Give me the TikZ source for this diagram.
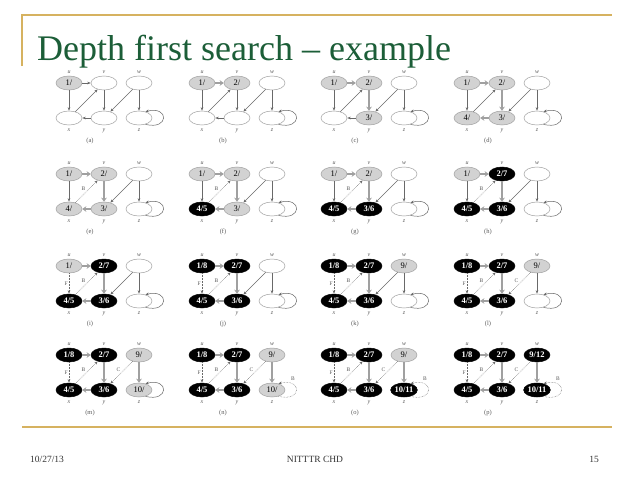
\documentclass[tikz,border=0pt]{standalone}
\usepackage{fontspec}
\setmainfont{Liberation Serif}
\usetikzlibrary{arrows.meta,shapes.geometric}
\definecolor{gold}{RGB}{214,178,96}
\definecolor{ttl}{RGB}{28,94,56}
\definecolor{edgec}{RGB}{105,105,105}
\definecolor{treec}{RGB}{160,160,160}
\definecolor{grayfill}{RGB}{210,210,210}
\definecolor{txtc}{RGB}{90,90,90}
\tikzset{
  vtx/.style={ellipse, draw=gray!75, line width=0.5pt, minimum width=26pt, minimum height=14pt, inner sep=0pt, font=\fontsize{8.5}{8.5}\selectfont},
  tW/.style={fill=white},
  tG/.style={fill=grayfill},
  tK/.style={fill=black, draw=black, text=white, font=\fontsize{8.5}{8.5}\selectfont\bfseries},
  vlab/.style={font=\fontsize{6}{6}\selectfont\itshape, text=txtc, inner sep=0pt},
  caplab/.style={font=\fontsize{6.5}{7}\selectfont, text=txtc, inner sep=0pt},
  lbl/.style={font=\fontsize{5.5}{6}\selectfont, inner sep=1pt, text=txtc},
  ebase/.style={draw=edgec, line width=0.5pt, -{Stealth[length=3.5pt,width=2.6pt]}},
  eN/.style={ebase, /utils/exec=\def\elab{}},
  eT/.style={ebase, draw=treec, line width=2.6pt, -{Stealth[length=4pt,width=5.5pt]}, /utils/exec=\def\elab{}},
  eB/.style={ebase, densely dotted, /utils/exec=\def\elab{B}},
  eF/.style={ebase, densely dotted, /utils/exec=\def\elab{F}},
  eC/.style={ebase, densely dotted, /utils/exec=\def\elab{C}},
  goldline/.style={draw=gold, line width=1.2pt},
  foot/.style={font=\fontsize{9.5}{10}\selectfont, text=black!80, inner sep=0pt, anchor=base}
}
\newcommand\vnode[4]{\node[vtx,#3] (#1) at (#2) {#4};}
\newcommand\dfspanel[9]{%
  \begin{scope}[shift={(#2)}]
    \vnode{#1u}{0,0}#4
    \vnode{#1v}{35,0}#5
    \vnode{#1w}{70,0}#6
    \vnode{#1x}{0,35}#7
    \vnode{#1y}{35,35}#8
    \vnode{#1z}{70,35}#9
    \node[vlab] (#1lu) at (0,-10.5) {u};
    \node[vlab] (#1lv) at (35,-10.5) {v};
    \node[vlab] (#1lw) at (70,-10.5) {w};
    \node[vlab] (#1lx) at (0,47.5) {x};
    \node[vlab] (#1ly) at (35,47.5) {y};
    \node[vlab] (#1lz) at (70,47.5) {z};
    \node[caplab] (#1cap) at (21,58) {(#3)};
  \end{scope}}
\newcommand\dfsedges[9]{%
  \draw[#2] (#1u) -- (#1v);
  \draw[#3] (#1u) -- node[lbl,left]{\elab} (#1x);
  \draw[#4] (#1x) -- node[lbl,above left=0pt]{\elab} (#1v);
  \draw[#5] (#1v) -- (#1y);
  \draw[#6] (#1y) -- (#1x);
  \draw[#7] (#1w) -- node[lbl,above left=0pt]{\elab} (#1y);
  \draw[#8] (#1w) -- (#1z);
  \draw[#9] (#1z.-45) .. controls +(24,6) and +(24,-6) .. (#1z.45) node[lbl] at ([shift={(21,-11)}]#1z.center) {\elab};}
\begin{document}
\begin{tikzpicture}[x=1pt,y=-1pt]
\useasboundingbox[fill=white] (0,0) rectangle (638,479);
% frame lines
\coordinate (tl) at (22,15);
\coordinate (tr) at (612,15);
\coordinate (tv) at (22,66);
\coordinate (bl) at (22,427);
\coordinate (br) at (612,427);
\draw[goldline] (tv) -- (tl) -- (tr);
\draw[goldline] (bl) -- (br);
\node[anchor=base west, font=\fontsize{36}{36}\selectfont, text=ttl, inner sep=0pt] (title) at (37,60) {Depth first search – example};
% panels
\dfspanel{a}{69,83}{a}{{tG}{1/}}{{tW}{}}{{tW}{}}{{tW}{}}{{tW}{}}{{tW}{}}
\dfsedges{a}{eN}{eN}{eN}{eN}{eN}{eN}{eN}{eN}
\dfspanel{b}{202,83}{b}{{tG}{1/}}{{tG}{2/}}{{tW}{}}{{tW}{}}{{tW}{}}{{tW}{}}
\dfsedges{b}{eT}{eN}{eN}{eN}{eN}{eN}{eN}{eN}
\dfspanel{c}{334,83}{c}{{tG}{1/}}{{tG}{2/}}{{tW}{}}{{tW}{}}{{tG}{3/}}{{tW}{}}
\dfsedges{c}{eT}{eN}{eN}{eT}{eN}{eN}{eN}{eN}
\dfspanel{d}{467,83}{d}{{tG}{1/}}{{tG}{2/}}{{tW}{}}{{tG}{4/}}{{tG}{3/}}{{tW}{}}
\dfsedges{d}{eT}{eN}{eN}{eT}{eT}{eN}{eN}{eN}
\dfspanel{e}{69,174}{e}{{tG}{1/}}{{tG}{2/}}{{tW}{}}{{tG}{4/}}{{tG}{3/}}{{tW}{}}
\dfsedges{e}{eT}{eN}{eB}{eT}{eT}{eN}{eN}{eN}
\dfspanel{f}{202,174}{f}{{tG}{1/}}{{tG}{2/}}{{tW}{}}{{tK}{4/5}}{{tG}{3/}}{{tW}{}}
\dfsedges{f}{eT}{eN}{eB}{eT}{eT}{eN}{eN}{eN}
\dfspanel{g}{334,174}{g}{{tG}{1/}}{{tG}{2/}}{{tW}{}}{{tK}{4/5}}{{tK}{3/6}}{{tW}{}}
\dfsedges{g}{eT}{eN}{eB}{eT}{eT}{eN}{eN}{eN}
\dfspanel{h}{467,174}{h}{{tG}{1/}}{{tK}{2/7}}{{tW}{}}{{tK}{4/5}}{{tK}{3/6}}{{tW}{}}
\dfsedges{h}{eT}{eN}{eB}{eT}{eT}{eN}{eN}{eN}
\dfspanel{i}{69,266}{i}{{tG}{1/}}{{tK}{2/7}}{{tW}{}}{{tK}{4/5}}{{tK}{3/6}}{{tW}{}}
\dfsedges{i}{eT}{eF}{eB}{eT}{eT}{eN}{eN}{eN}
\dfspanel{j}{202,266}{j}{{tK}{1/8}}{{tK}{2/7}}{{tW}{}}{{tK}{4/5}}{{tK}{3/6}}{{tW}{}}
\dfsedges{j}{eT}{eF}{eB}{eT}{eT}{eN}{eN}{eN}
\dfspanel{k}{334,266}{k}{{tK}{1/8}}{{tK}{2/7}}{{tG}{9/}}{{tK}{4/5}}{{tK}{3/6}}{{tW}{}}
\dfsedges{k}{eT}{eF}{eB}{eT}{eT}{eN}{eN}{eN}
\dfspanel{l}{467,266}{l}{{tK}{1/8}}{{tK}{2/7}}{{tG}{9/}}{{tK}{4/5}}{{tK}{3/6}}{{tW}{}}
\dfsedges{l}{eT}{eF}{eB}{eT}{eT}{eC}{eN}{eN}
\dfspanel{m}{69,355}{m}{{tK}{1/8}}{{tK}{2/7}}{{tG}{9/}}{{tK}{4/5}}{{tK}{3/6}}{{tG}{10/}}
\dfsedges{m}{eT}{eF}{eB}{eT}{eT}{eC}{eT}{eN}
\dfspanel{n}{202,355}{n}{{tK}{1/8}}{{tK}{2/7}}{{tG}{9/}}{{tK}{4/5}}{{tK}{3/6}}{{tG}{10/}}
\dfsedges{n}{eT}{eF}{eB}{eT}{eT}{eC}{eT}{eB}
\dfspanel{o}{334,355}{o}{{tK}{1/8}}{{tK}{2/7}}{{tG}{9/}}{{tK}{4/5}}{{tK}{3/6}}{{tK}{10/11}}
\dfsedges{o}{eT}{eF}{eB}{eT}{eT}{eC}{eT}{eB}
\dfspanel{p}{467,355}{p}{{tK}{1/8}}{{tK}{2/7}}{{tK}{9/12}}{{tK}{4/5}}{{tK}{3/6}}{{tK}{10/11}}
\dfsedges{p}{eT}{eF}{eB}{eT}{eT}{eC}{eT}{eB}
% footer
\node[foot] (date) at (47,462) {10/27/13};
\node[foot] (org) at (315,462) {NITTTR CHD};
\node[foot] (pg) at (594,462) {15};
\end{tikzpicture}
\end{document}
